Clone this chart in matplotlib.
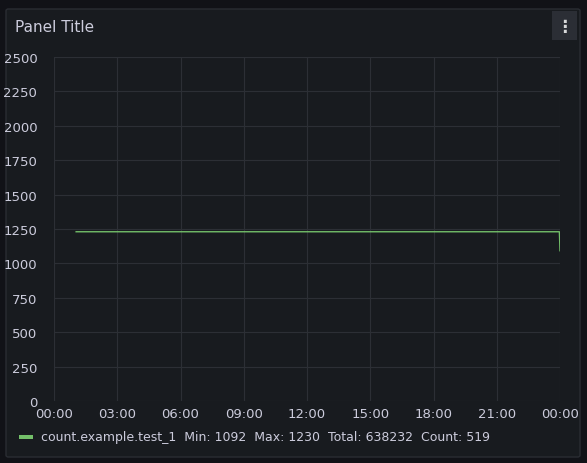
import matplotlib.pyplot as plt
from matplotlib.patches import FancyBboxPatch, Rectangle

# series (hours since midnight, value)
hours = [1.05, 6.0, 12.0, 18.0, 23.97, 24.0]
values = [1230, 1230, 1230, 1230, 1230, 1092]
xticks = [0, 3, 6, 9, 12, 15, 18, 21, 24]
xlabels = ['00:00', '03:00', '06:00', '09:00', '12:00', '15:00', '18:00', '21:00', '00:00']
yticks = list(range(0, 2501, 250))
legend_text = 'count.example.test_1  Min: 1092  Max: 1230  Total: 638232  Count: 519'

W, H = 587, 464
fig = plt.figure(figsize=(W / 100, H / 100), dpi=100)
fig.patch.set_facecolor('#111217')

# panel
fig.patches.append(FancyBboxPatch((6 / W, 6 / H), 574 / W, 448 / H, boxstyle='round,pad=0,rounding_size=0.004',
                                  transform=fig.transFigure, fc='#181b1f', ec='#2a2d33', lw=1, zorder=-2))
fig.patches.append(Rectangle((552 / W, (H - 41) / H), 25 / W, 29 / H, transform=fig.transFigure,
                             fc='#2b2e35', ec='none', zorder=-1))
fig.text(564.5 / W, (H - 27) / H, '⋮', color='#d8d9da', fontsize=12, ha='center', va='center', fontweight='bold')
fig.text(15 / W, (H - 27) / H, 'Panel Title', color='#ccccdc', fontsize=11, va='center')

ax = fig.add_axes([54 / W, (H - 402) / H, 506 / W, 344 / H])
ax.set_zorder(2)
ax.set_facecolor('#181b1f')
ax.plot(hours, values, color='#73bf69', lw=1)
ax.set_xlim(0, 24)
ax.set_ylim(0, 2500)
ax.set_xticks(xticks, xlabels)
ax.set_yticks(yticks)
ax.grid(True, color='#2c2f35', lw=0.8)
for s in ax.spines.values():
    s.set_visible(False)
ax.tick_params(colors='#ccccdc', labelsize=9.5, length=0, pad=4)
ax.tick_params(axis='y', pad=12)

# legend
fig.patches.append(Rectangle((19 / W, (H - 440) / H), 14 / W, 4 / H, transform=fig.transFigure,
                             fc='#73bf69', ec='none'))
fig.text(41 / W, (H - 438) / H, legend_text, color='#ccccdc', fontsize=9, va='center')

fig.savefig('out.png', dpi=100, facecolor=fig.get_facecolor())
